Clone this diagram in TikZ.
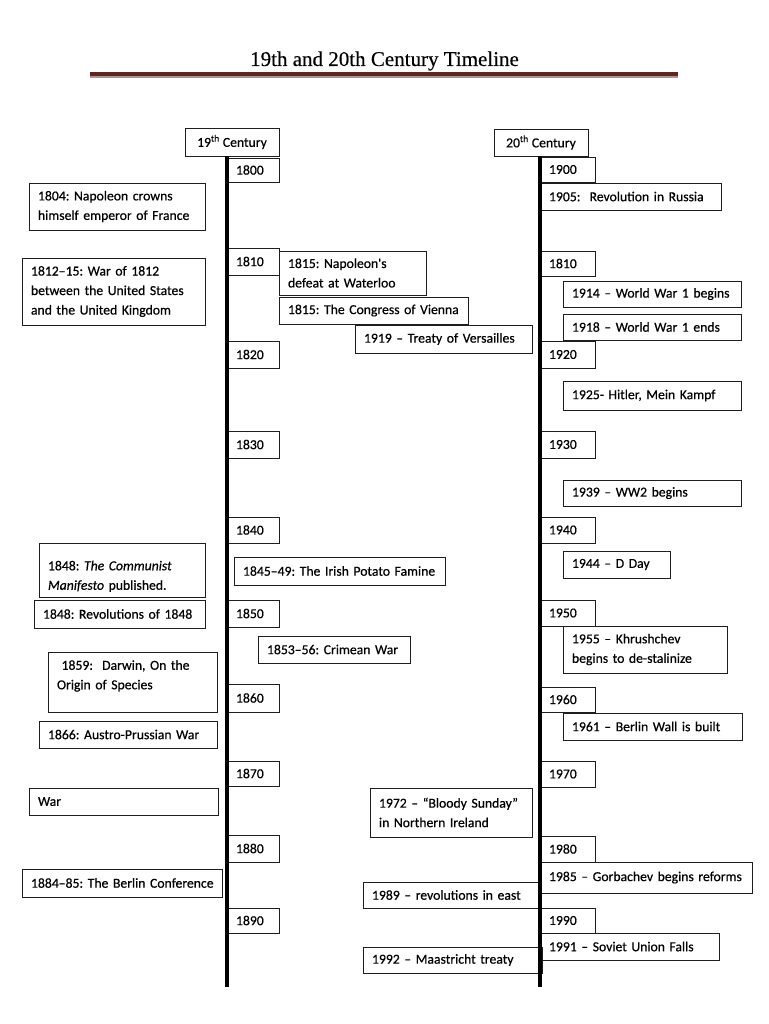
\documentclass[tikz,border=0pt]{standalone}
\usepackage{fontspec}
\setmainfont{Carlito}[FakeBold=0.5]
\newfontfamily\titlefont{Liberation Serif}[FakeBold=0.3]
\definecolor{rulered}{HTML}{622423}
\definecolor{rulepink}{HTML}{B09494}
\definecolor{boxline}{HTML}{1E1E1E}
\tikzset{
  txt/.style={font=\fontsize{13.7}{19.5}\selectfont\frenchspacing},
  evbox/.style={txt, draw=boxline, line width=0.9pt, inner xsep=9pt, inner ysep=1pt, align=left},
  cenbox/.style={txt, draw=boxline, line width=0.9pt, inner sep=0pt, align=center},
  tline/.style={line width=3.6pt, black}
}
% [options] name, x1, y1, x2, y2, text
\newcommand\tlbox[7][]{%
  \node[evbox, minimum width={#5pt-#3pt}, minimum height={#6pt-#4pt},
        text width=\dimexpr #5pt-#3pt-18pt\relax, #1]
        (#2) at ({(#3+#5)/2},{(#4+#6)/2}) {#7};}
\begin{document}
\begin{tikzpicture}[x=1pt,y=-1pt]
\useasboundingbox[fill=white] (0,0) rectangle (768,1024);

% title
\node[anchor=base, inner sep=0pt, font=\titlefont\fontsize{21}{25}\selectfont] (title) at (384.5,66) {19th and 20th Century Timeline};
\fill[rulered] (90,72.3) rectangle (678,75.8);
\fill[rulepink] (90,75.8) rectangle (678,78);

% century headers
\node[cenbox, minimum width=94pt, minimum height=28pt] (c19) at (232,142) {19\textsuperscript{th} Century};
\node[cenbox, minimum width=94pt, minimum height=27pt] (c20) at (541,142.5) {20\textsuperscript{th} Century};

% 19th century decades
\tlbox{d1800}{227}{158}{279}{182}{1800}
\tlbox{d1810}{227}{248}{279}{275}{1810}
\tlbox{d1820}{227}{341}{279}{368}{1820}
\tlbox{d1830}{227}{431}{279}{458}{1830}
\tlbox{d1840}{227}{517}{279}{543}{1840}
\tlbox{d1850}{227}{600}{279}{627}{1850}
\tlbox{d1860}{227}{684}{279}{712}{1860}
\tlbox{d1870}{227}{761}{279}{786}{1870}
\tlbox{d1880}{227}{835}{279}{862}{1880}
\tlbox{d1890}{227}{908}{279}{933}{1890}

% 20th century decades
\tlbox{d1900}{540}{157}{595}{182}{1900}
\tlbox{d1910}{540}{251}{595}{276}{1810}
\tlbox{d1920}{540}{341}{595}{368}{1920}
\tlbox{d1930}{540}{431}{595}{458}{1930}
\tlbox{d1940}{540}{517}{595}{543}{1940}
\tlbox{d1950}{540}{600}{595}{626}{1950}
\tlbox{d1960}{540}{687}{595}{712}{1960}
\tlbox{d1970}{540}{761}{595}{787}{1970}
\tlbox{d1980}{540}{836}{595}{862}{1980}
\tlbox{d1990}{540}{908}{595}{933}{1990}

% 19th century events
\tlbox{e1804}{29}{183}{205}{230}{\mbox{1804: Napoleon crowns}\\\mbox{himself emperor of France}}
\tlbox{e1812}{22}{258}{205}{325}{\mbox{1812–15: War of 1812}\\\mbox{between the United States}\\\mbox{and the United Kingdom}}
\tlbox{e1815a}{279}{251}{426}{295}{\mbox{1815: Napoleon\textquotesingle s}\\\mbox{defeat at Waterloo}}
\tlbox{e1815b}{279}{297}{468}{324}{\mbox{1815: The Congress of Vienna}}
\tlbox[text depth=9pt]{e1848a}{39}{543}{205}{597}{\mbox{1848: \textit{The Communist}}\\\mbox{\textit{Manifesto} published.}}
\tlbox{e1845}{234}{557}{445}{585}{\mbox{1845–49: The Irish Potato Famine}}
\tlbox{e1848b}{34}{600}{205}{628}{\mbox{1848: Revolutions of 1848}}
\tlbox{e1853}{258}{636}{410}{663}{\mbox{1853–56: Crimean War}}
\tlbox[text depth=34pt]{e1859}{48}{652}{217}{712}{\mbox{\ 1859:\ \ Darwin, On the}\\\mbox{Origin of Species}}
\tlbox{e1866}{39}{721}{217}{748}{\mbox{1866: Austro-Prussian War}}
\tlbox{ewar}{29}{788}{218}{815}{War}
\tlbox{e1884}{22}{869}{222}{897}{\mbox{1884–85: The Berlin Conference}}

% 20th century events
\tlbox[inner xsep=11pt]{e1905}{540}{183}{719}{210}{\mbox{1905:\ \ Revolution in Russia}}
\tlbox{e1914}{563}{281}{741}{307}{\mbox{1914 – World War 1 begins}}
\tlbox{e1918}{563}{314}{741}{340}{\mbox{1918 – World War 1 ends}}
\tlbox{e1919}{355}{325}{532}{353}{\mbox{1919 – Treaty of Versailles}}
\tlbox{e1925}{563}{381}{741}{410}{\mbox{1925- Hitler, Mein Kampf}}
\tlbox{e1939}{563}{480}{741}{506}{\mbox{1939 – WW2 begins}}
\tlbox{e1944}{563}{551}{670}{578}{\mbox{1944 – D Day}}
\tlbox{e1955}{563}{626}{727}{673}{\mbox{1955 – Khrushchev}\\\mbox{begins to de-stalinize}}
\tlbox{e1961}{563}{713}{742}{740}{\mbox{1961 – Berlin Wall is built}}
\tlbox{e1972}{370}{788}{532}{837}{\mbox{1972 – “Bloody Sunday”}\\\mbox{in Northern Ireland}}
\tlbox{e1985}{540}{862}{752}{893}{\mbox{1985 – Gorbachev begins reforms}}
\tlbox{e1989}{363}{882}{540}{908}{\mbox{1989 – revolutions in east}}
\tlbox{e1991}{540}{933}{719}{960}{\mbox{1991 – Soviet Union Falls}}
\tlbox{e1992}{363}{947}{542}{973}{\mbox{1992 – Maastricht treaty}}

% timeline axes
\coordinate (l1top) at (227,156.5);
\coordinate (l1bot) at (227,987);
\coordinate (l2top) at (540,156.5);
\coordinate (l2bot) at (540,987);
\draw[tline] (l1top) -- (l1bot);
\draw[tline] (l2top) -- (l2bot);
\end{tikzpicture}
\end{document}
